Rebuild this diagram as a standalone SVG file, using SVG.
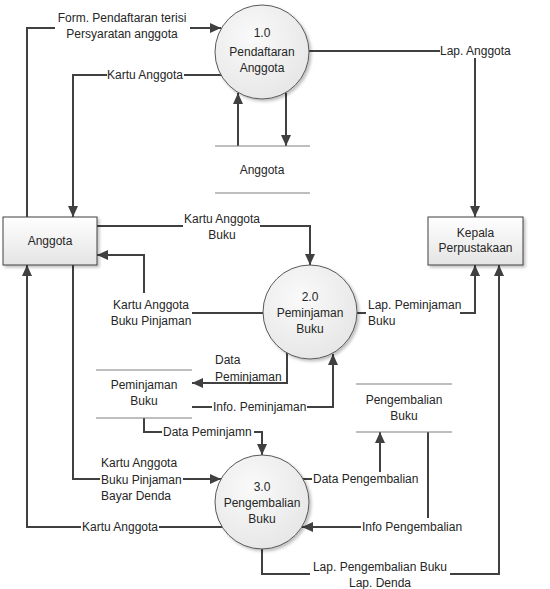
<svg xmlns="http://www.w3.org/2000/svg" width="550" height="589" viewBox="0 0 550 589">
<defs>
<linearGradient id="gBox" x1="0" y1="0" x2="0" y2="1"><stop offset="0" stop-color="#ffffff"/><stop offset="1" stop-color="#e4e4e4"/></linearGradient>
<radialGradient id="gCirc" cx="0.4" cy="0.35" r="0.7"><stop offset="0" stop-color="#fafafa"/><stop offset="1" stop-color="#e6e6e6"/></radialGradient>
<filter id="sh" x="-20%" y="-20%" width="150%" height="150%"><feDropShadow dx="2" dy="2" stdDeviation="1.5" flood-color="#000" flood-opacity="0.25"/></filter>
<marker id="arr" markerUnits="userSpaceOnUse" markerWidth="12" markerHeight="11" refX="11" refY="5" orient="auto"><path d="M0,0 L11,5 L0,10 z" fill="#404040"/></marker>
</defs>
<style>
text{font-family:"Liberation Sans",Arial,sans-serif;font-size:12px;fill:#262626}
.c{text-anchor:middle}
.ln{fill:none;stroke:#404040;stroke-width:2}
.ar{marker-end:url(#arr)}
.store{stroke:#808080;stroke-width:1.2}
.proc{fill:url(#gCirc);stroke:#595959;stroke-width:1;filter:url(#sh)}
.ent{fill:url(#gBox);stroke:#404040;stroke-width:1;filter:url(#sh)}
</style>
<rect width="550" height="589" fill="#ffffff"/>

<g id="connectors">
<path class="ln" d="M27,217 V28 H55"/>
<path class="ln ar" d="M190,28 H221"/>
<path class="ln" d="M221,75 H184"/>
<path class="ln ar" d="M107,75 H73 V217"/>
<path class="ln" d="M309,51 H440"/>
<path class="ln ar" d="M475,58 V217"/>
<path class="ln ar" d="M238,146 V93"/>
<path class="ln ar" d="M286,93 V146"/>
<path class="ln" d="M97,226 H183"/>
<path class="ln ar" d="M260,226 H310 V265"/>
<path class="ln" d="M263,313 H192"/>
<path class="ln ar" d="M144,293 V255 H97"/>
<path class="ln" d="M357,313 H366"/>
<path class="ln ar" d="M460,313 H475 V265"/>
<path class="ln ar" d="M287,353 V383 H192"/>
<path class="ln" d="M192,407 H212"/>
<path class="ln ar" d="M307,407 H333 V354"/>
<path class="ln" d="M144,418 V432 H162"/>
<path class="ln ar" d="M254,432 H262 V455"/>
<path class="ln" d="M73,265 V479 H100"/>
<path class="ln ar" d="M183,479 H221"/>
<path class="ln" d="M222,527 H159"/>
<path class="ln ar" d="M81,527 H27 V265"/>
<path class="ln" d="M303,479 H312"/>
<path class="ln ar" d="M380,472 V432"/>
<path class="ln" d="M428,432 V518"/>
<path class="ln ar" d="M361,527 H302"/>
<path class="ln" d="M262,549 V574 H310"/>
<path class="ln ar" d="M450,574 H499 V265"/>
</g>

<g id="labels">
<text class="c" x="122" y="22">Form. Pendaftaran terisi</text>
<text class="c" x="122" y="38">Persyaratan anggota</text>
<text class="c" x="145" y="79">Kartu Anggota</text>
<text x="440" y="55">Lap. Anggota</text>
<text class="c" x="222" y="223">Kartu Anggota</text>
<text class="c" x="222" y="239">Buku</text>
<text class="c" x="151" y="309">Kartu Anggota</text>
<text class="c" x="151" y="325">Buku Pinjaman</text>
<text x="368" y="309">Lap. Peminjaman</text>
<text x="368" y="325">Buku</text>
<text x="215" y="364">Data</text>
<text x="215" y="381">Peminjaman</text>
<text x="213" y="411">Info. Peminjaman</text>
<text x="163" y="436">Data Peminjamn</text>
<text x="101" y="467">Kartu Anggota</text>
<text x="101" y="484">Buku Pinjaman</text>
<text x="101" y="500">Bayar Denda</text>
<text class="c" x="120" y="531">Kartu Anggota</text>
<text x="313" y="483">Data Pengembalian</text>
<text x="362" y="531">Info Pengembalian</text>
<text class="c" x="380" y="571">Lap. Pengembalian Buku</text>
<text class="c" x="380" y="587">Lap. Denda</text>
</g>

<g id="p1">
<circle class="proc" cx="262" cy="52" r="47"/>
<text class="c" x="262" y="37">1.0</text>
<text class="c" x="262" y="56">Pendaftaran</text>
<text class="c" x="262" y="72">Anggota</text>
</g>
<g id="p2">
<circle class="proc" cx="310" cy="312" r="47"/>
<text class="c" x="310" y="301">2.0</text>
<text class="c" x="310" y="317">Peminjaman</text>
<text class="c" x="310" y="333">Buku</text>
</g>
<g id="p3">
<circle class="proc" cx="262" cy="502" r="47"/>
<text class="c" x="262" y="491">3.0</text>
<text class="c" x="262" y="507">Pengembalian</text>
<text class="c" x="262" y="523">Buku</text>
</g>

<g id="e_anggota">
<rect class="ent" x="3" y="217" width="94" height="48"/>
<text class="c" x="50" y="245">Anggota</text>
</g>
<g id="e_kepala">
<rect class="ent" x="428" y="217" width="95" height="48"/>
<text class="c" x="475.5" y="237">Kepala</text>
<text class="c" x="475.5" y="252">Perpustakaan</text>
</g>

<g id="d_anggota">
<line class="store" x1="215" y1="146" x2="310" y2="146"/>
<line class="store" x1="215" y1="193" x2="310" y2="193"/>
<text class="c" x="262" y="174">Anggota</text>
</g>
<g id="d_peminjaman">
<line class="store" x1="96" y1="370" x2="192" y2="370"/>
<line class="store" x1="96" y1="418" x2="192" y2="418"/>
<text class="c" x="144" y="389">Peminjaman</text>
<text class="c" x="144" y="405">Buku</text>
</g>
<g id="d_pengembalian">
<line class="store" x1="356" y1="384" x2="452" y2="384"/>
<line class="store" x1="356" y1="432" x2="452" y2="432"/>
<text class="c" x="404" y="404">Pengembalian</text>
<text class="c" x="404" y="420">Buku</text>
</g>
</svg>
